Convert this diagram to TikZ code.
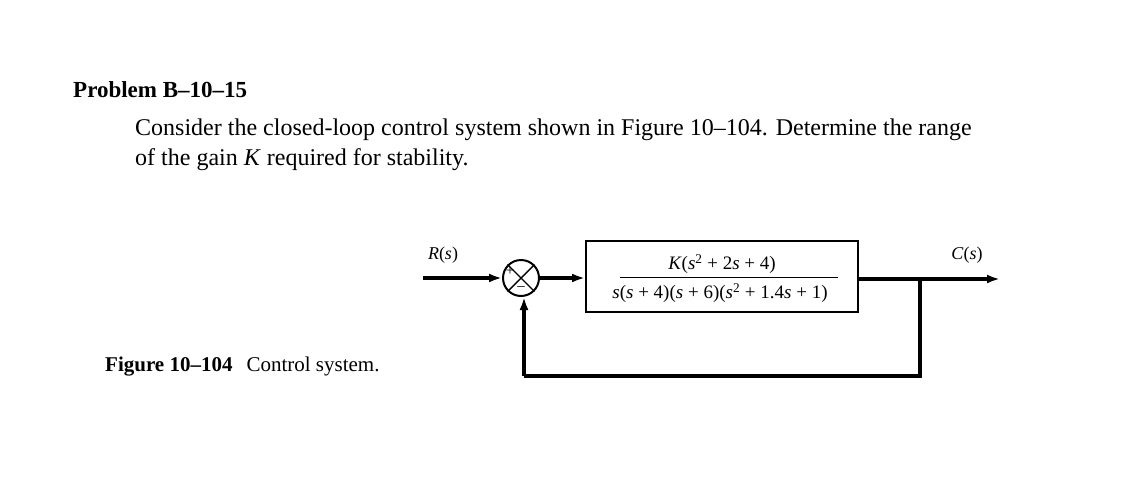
\documentclass[tikz,border=0pt]{standalone}
\usepackage{fontspec}
\setmainfont{Liberation Serif}
\usetikzlibrary{arrows.meta}
\newcommand{\vi}[1]{\textit{#1}}
\begin{document}
\begin{tikzpicture}[x=1pt,y=-1pt,
  sig/.style={line width=3.2pt,-{Latex[length=13pt,width=9pt]}},
  wire/.style={line width=3.2pt}]
\useasboundingbox (0,0) rectangle (1122,493);
\fill[white] (0,0) rectangle (1122,493);
\node[anchor=west,inner sep=0pt,font=\fontsize{23}{26}\selectfont\bfseries] (title) at (73,90) {Problem B–10–15};
\node[anchor=west,inner sep=0pt,align=left,font=\fontsize{24}{30}\selectfont] (body) at (135,145) {Consider the closed-loop control system shown in Figure 10–104. Determine the range\\of the gain \vi{K} required for stability.};
\node[anchor=west,inner sep=0pt,font=\fontsize{21}{24}\selectfont] (cap) at (105,367) {\textbf{Figure 10–104}\hspace{14pt}Control system.};
\coordinate (in) at (423,278);
\node[circle,draw,line width=2pt,minimum size=36pt,inner sep=0pt] (sum) at (521,278) {};
\draw[line width=1.4pt] (sum.north west)--(sum.south east) (sum.north east)--(sum.south west);
\node[inner sep=0pt,font=\fontsize{15}{15}\selectfont] (plus) at (510,271) {+};
\node[inner sep=0pt,font=\fontsize{15}{15}\selectfont] (minus) at (521,289) {–};
\node[draw,line width=2pt,minimum width=272pt,minimum height=71pt,inner sep=0pt] (G) at (722,276.5) {};
\node[font=\fontsize{19}{22}\selectfont] (num) at (722,264) {\vi{K}(\vi{s}\textsuperscript{2} + 2\vi{s} + 4)};
\draw[line width=1pt] (620,277)--(838,277);
\node[font=\fontsize{19}{22}\selectfont] (den) at (720,293) {\vi{s}(\vi{s} + 4)(\vi{s} + 6)(\vi{s}\textsuperscript{2} + 1.4\vi{s} + 1)};
\coordinate (out) at (1000,279);
\coordinate (br) at (920,279);
\coordinate (b1) at (920,376);
\coordinate (b2) at (524,376);
\node[font=\fontsize{18}{20}\selectfont] (R) at (443,255) {\vi{R}(\vi{s})};
\node[font=\fontsize{18}{20}\selectfont] (C) at (967,255) {\vi{C}(\vi{s})};
\draw[sig] (in)--(sum.west);
\draw[sig] (sum.east)--(G.west|-sum.east);
\draw[sig] (G.east|-out)--(out);
\draw[wire] (br)--(b1)--(b2);
\draw[sig] (b2)--(b2|-sum.south);
\end{tikzpicture}
\end{document}
